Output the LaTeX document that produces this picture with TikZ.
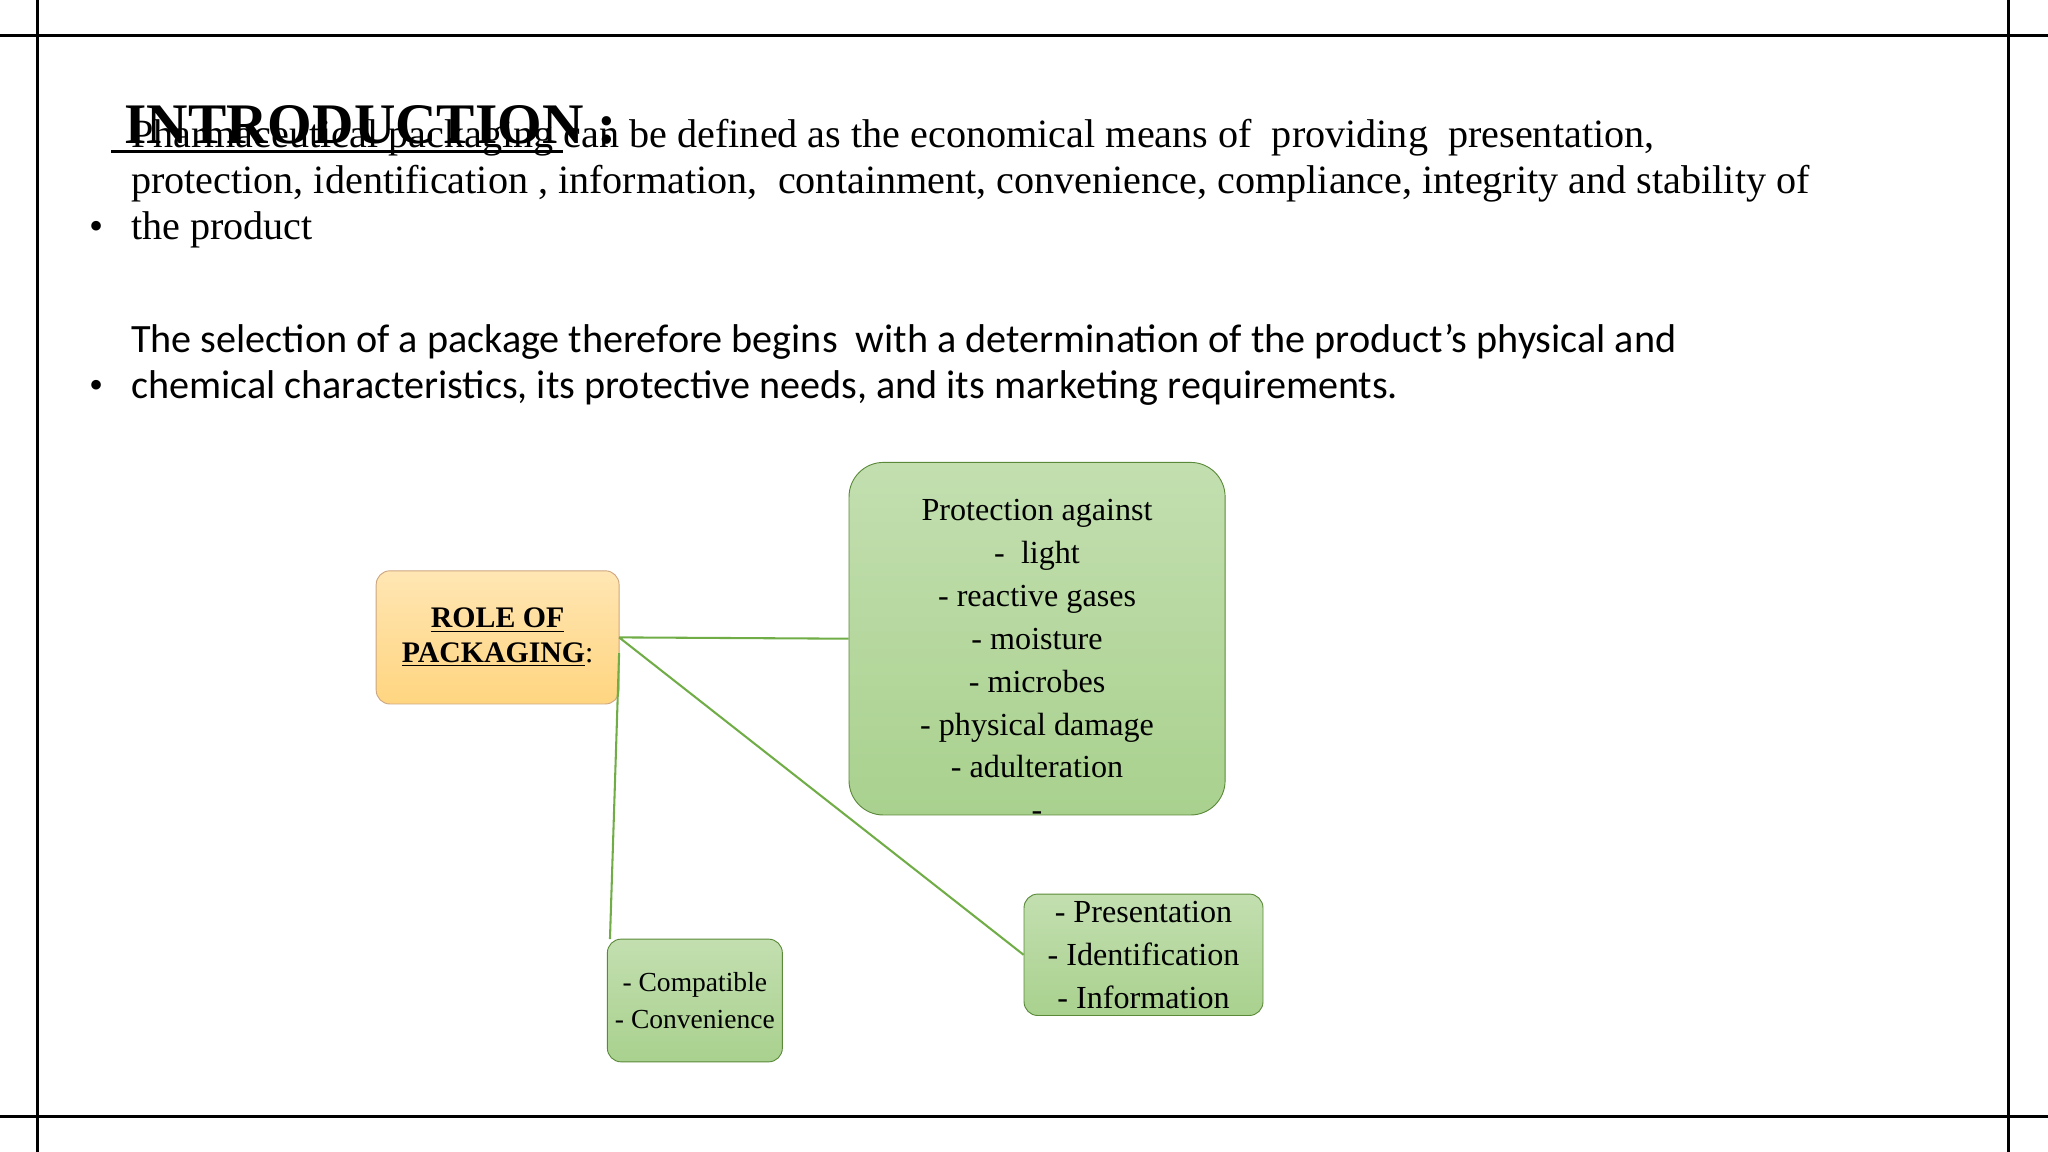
\documentclass[tikz,border=0pt]{standalone}
\usepackage{fontspec}
\setmainfont{Liberation Serif}
\newfontfamily\carlitofont{Carlito}
\begin{document}
\begin{tikzpicture}[x=0.02cm,y=-0.02cm,
  box/.style={rounded corners=6pt,inner sep=0pt,align=center},
]
\definecolor{gfill}{HTML}{A9D18E}
\definecolor{gline}{HTML}{70AD47}
\definecolor{ofill}{HTML}{FFD580}
\useasboundingbox (0,0) rectangle (1568,882);
\draw[line width=1.4pt] (29,0) -- (29,882) (1538,0) -- (1538,882) (0,27) -- (1568,27) (0,855) -- (1568,855);
\node[anchor=base west,inner sep=0pt,font=\fontsize{25}{30}\selectfont\bfseries] (title) at (95,110) {INTRODUCTION :};
\coordinate (ul1) at (85,116);
\coordinate (ul2) at (431,116);
\draw[line width=1.6pt] (ul1) -- (ul2);
\node[anchor=base west,font=\fontsize{17.5}{20}\selectfont] (b1) at (62,183) {•};
\node[anchor=base west,align=left,inner sep=0pt,font=\fontsize{17.5}{20}\selectfont] (t1) at (100,183)
 {Pharmaceutical packaging can be defined as the economical means of\ \ providing\ \ presentation,\\
  protection, identification , information,\ \ containment, convenience, compliance, integrity and stability of\\
  the product};
\node[anchor=base west,font=\fontsize{17.5}{20}\selectfont] (b2) at (62,305) {•};
\node[anchor=base west,align=left,inner sep=0pt,font=\carlitofont\fontsize{17.5}{20}\selectfont] (t2) at (100,305)
 {The selection of a package therefore begins\ \ with a determination of the product’s physical and\\
  chemical characteristics, its protective needs, and its marketing requirements.};
\node[box,top color=ofill!60,bottom color=ofill,draw=orange!60!black!50,minimum width=3.72cm,minimum height=2.04cm,font=\fontsize{13}{15}\selectfont] (role) at (381,488)
 {\underline{\textbf{ROLE OF}}\\\underline{\textbf{PACKAGING}}:};
\node[box,top color=gfill!70,bottom color=gfill,draw=gline!80!black,rounded corners=15pt,minimum width=5.76cm,minimum height=5.4cm] (prot) at (794,489) {};
\node[align=center,font=\fontsize{14}{18.7}\selectfont,anchor=north] (ptext) at (794,376)
 {Protection against\\-\ \ light\\- reactive gases\\- moisture\\- microbes\\- physical damage\\- adulteration\\-};
\node[box,top color=gfill!70,bottom color=gfill,draw=gline!80!black,minimum width=3.66cm,minimum height=1.86cm,font=\fontsize{14}{18.7}\selectfont] (pres) at (875.5,731)
 {- Presentation\\- Identification\\- Information};
\node[box,top color=gfill!70,bottom color=gfill,draw=gline!80!black,minimum width=2.68cm,minimum height=1.88cm,font=\fontsize{12}{16}\selectfont] (comp) at (532,766)
 {- Compatible\\- Convenience};
\coordinate (r) at (474,488);
\coordinate (r2) at (474,500);
\coordinate (c) at (467,719);
\draw[gline,line width=0.9pt] (r) -- (prot.west) (r) -- (pres.west) (r2) -- (c);
\end{tikzpicture}
\end{document}
